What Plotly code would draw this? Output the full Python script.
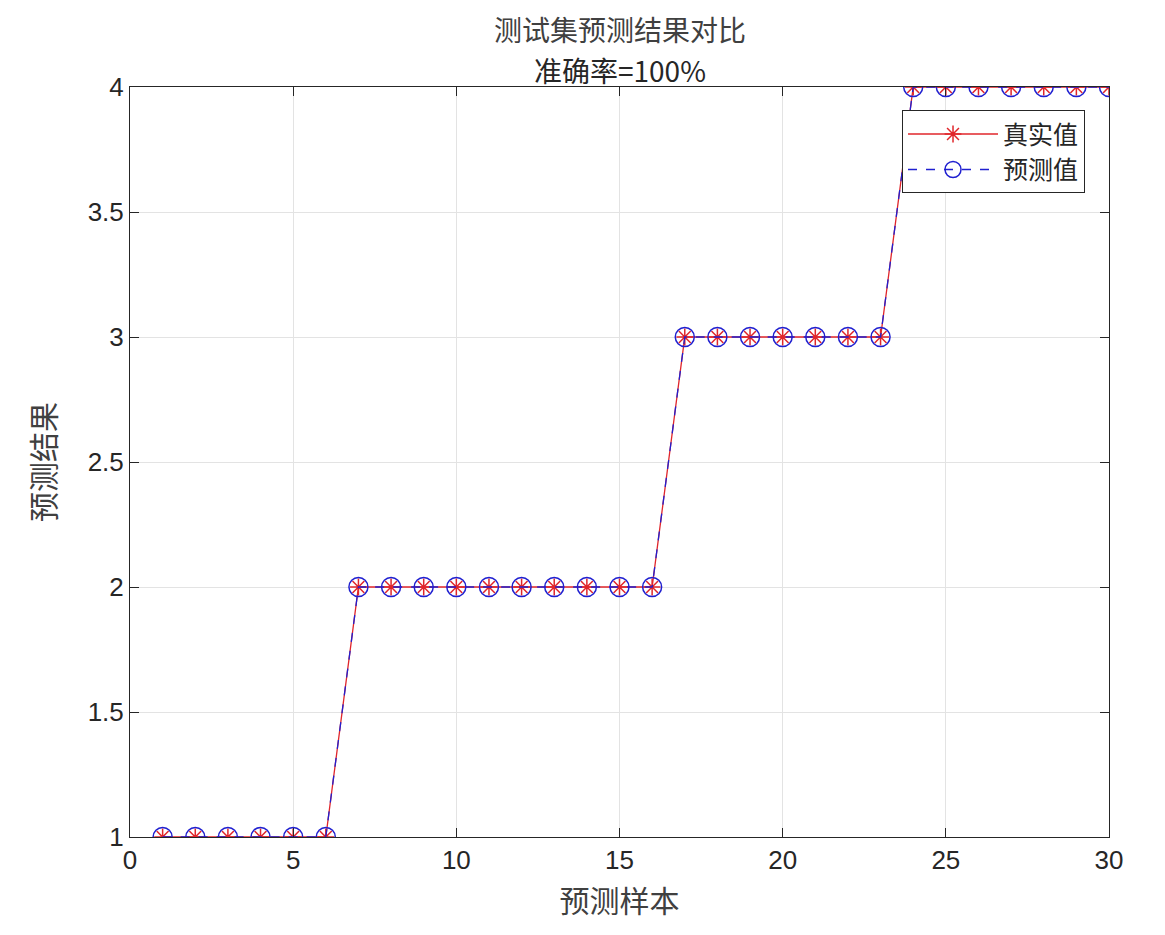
import plotly.graph_objects as go

x_samples = list(range(1, 31))
true_vals = [1]*6 + [2]*10 + [3]*7 + [4]*7
pred_vals = [1]*6 + [2]*10 + [3]*7 + [4]*7

title_line1 = "测试集预测结果对比"
title_line2 = "准确率=100%"
x_label = "预测样本"
y_label = "预测结果"

font_fam = "Noto Sans CJK SC, Liberation Sans, Arial"
num_fam = "Liberation Sans, Arial"

fig = go.Figure()
fig.add_trace(go.Scatter(
    x=x_samples, y=true_vals, mode="lines+markers", name="真实值",
    line=dict(color="#e0262b", width=1.3),
    marker=dict(symbol="asterisk-open", size=14, color="#e0262b", line=dict(width=1.5, color="#e0262b")),
))
fig.add_trace(go.Scatter(
    x=x_samples, y=pred_vals, mode="lines+markers", name="预测值",
    line=dict(color="#2020d0", width=1.3, dash="dash"),
    marker=dict(symbol="circle-open", size=19, color="#2020d0", line=dict(width=1.5, color="#2020d0")),
))

axis_common = dict(
    showgrid=True, gridcolor="#e3e3e3", gridwidth=1,
    showline=True, linecolor="#262626", linewidth=1, mirror="ticks",
    ticks="inside", ticklen=9, tickcolor="#262626",
    tickfont=dict(size=26, color="#262626", family=num_fam),
    zeroline=False,
)

W, H = 1157, 927
L, R, T, B = 122, 56, 79, 98
plot_h = H - T - B

fig.update_layout(
    width=W, height=H,
    paper_bgcolor="white", plot_bgcolor="white",
    margin=dict(l=L, r=R, t=T, b=B),
    font=dict(family=font_fam),
    xaxis=dict(range=[0, 30], tickvals=[0, 5, 10, 15, 20, 25, 30],
               title=dict(text=x_label, font=dict(size=30, color="#404040"), standoff=16),
               **axis_common),
    yaxis=dict(range=[1, 4], tickvals=[1, 1.5, 2, 2.5, 3, 3.5, 4],
               title=dict(text=y_label, font=dict(size=30, color="#404040"), standoff=23),
               **axis_common),
    showlegend=True,
    legend=dict(
        x=0.9755, xanchor="right", y=0.969, yanchor="top",
        bgcolor="white", bordercolor="#262626", borderwidth=1,
        font=dict(size=25, color="#262626", family=font_fam),
        itemwidth=90, tracegroupgap=0,
    ),
    annotations=[
        dict(text=title_line1, xref="paper", yref="paper", x=0.5, y=1 + (T - 21) / plot_h,
             xanchor="center", yanchor="middle", showarrow=False,
             font=dict(size=28, color="#404040", family=font_fam)),
        dict(text=title_line2, xref="paper", yref="paper", x=0.5, y=1 + (T - 62) / plot_h,
             xanchor="center", yanchor="middle", showarrow=False,
             font=dict(size=28, color="#262626", family=font_fam)),
    ],
)

fig.write_html("out.html")
